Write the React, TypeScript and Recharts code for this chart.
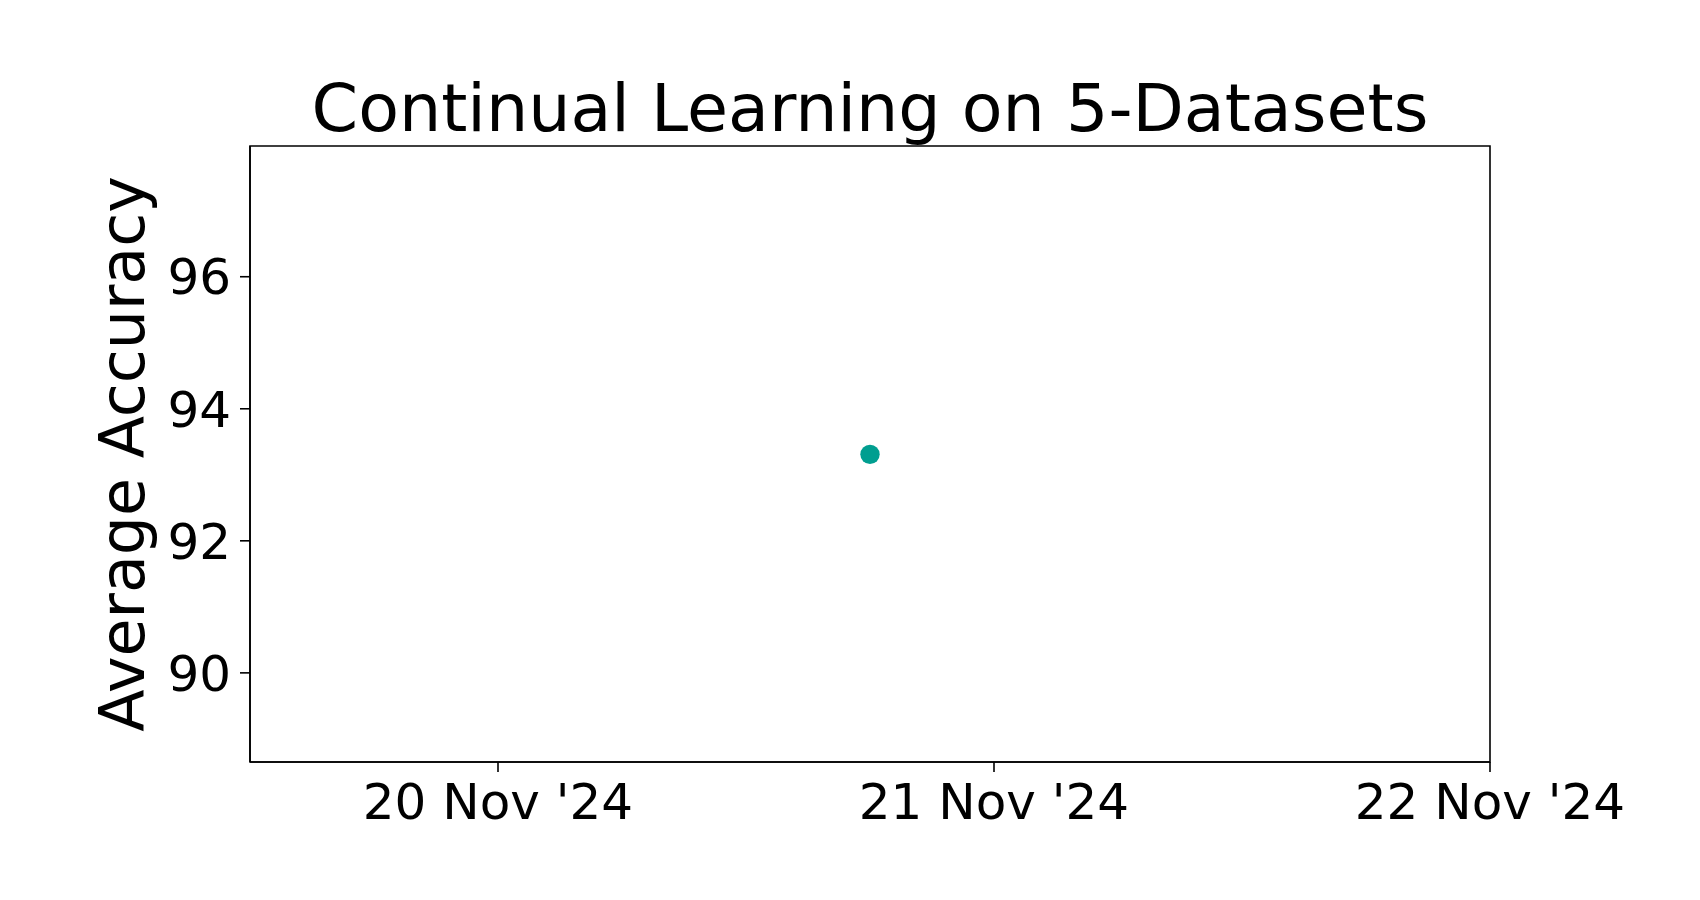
import React from "react";
import { ScatterChart, Scatter, XAxis, YAxis, ReferenceArea } from "recharts";

// values
const pointTimes = [Date.UTC(2024, 10, 20, 18)];
const pointAccuracy = [93.31];
const xTickTimes = [Date.UTC(2024, 10, 20), Date.UTC(2024, 10, 21), Date.UTC(2024, 10, 22)];
const xTickLabels = ["20 Nov '24", "21 Nov '24", "22 Nov '24"];
const yTicks = [90, 92, 94, 96];

const data = pointTimes.map((t, i) => ({ t, acc: pointAccuracy[i] }));

const X_DOMAIN = [Date.UTC(2024, 10, 19, 12), Date.UTC(2024, 10, 22)];
const Y_DOMAIN = [88.65, 97.98];

const FONT = "DejaVu Sans";
const AXIS = { stroke: "#000", strokeWidth: 1.6 };
const DOT = "#009e90";

const App: React.FC = () => {
  const fmtX = (v: number) => {
    const i = xTickTimes.indexOf(v);
    return i >= 0 ? xTickLabels[i] : "";
  };

  return (
    <div style={{ position: "absolute", left: 0, top: 0, width: 1700, height: 900, background: "#fff" }}>
      <ScatterChart
        width={1700}
        height={900}
        margin={{ top: 146, right: 210, bottom: 78, left: 0 }}
      >
        <XAxis
          type="number"
          dataKey="t"
          domain={X_DOMAIN}
          ticks={xTickTimes}
          tickFormatter={fmtX}
          interval={0}
          allowDataOverflow
          height={60}
          axisLine={AXIS}
          tickLine={AXIS}
          tickSize={10}
          tickMargin={11}
          tick={{ fill: "#000", fontSize: 50, fontFamily: FONT }}
        />
        <YAxis
          type="number"
          dataKey="acc"
          domain={Y_DOMAIN}
          ticks={yTicks}
          interval={0}
          allowDataOverflow
          width={250}
          axisLine={AXIS}
          tickLine={AXIS}
          tickSize={10}
          tickMargin={9}
          tick={{ fill: "#000", fontSize: 50, fontFamily: FONT }}
        />
        {/* frame around the plot area */}
        <ReferenceArea
          x1={X_DOMAIN[0]}
          x2={X_DOMAIN[1]}
          y1={Y_DOMAIN[0]}
          y2={Y_DOMAIN[1]}
          fill="none"
          fillOpacity={0}
          stroke="#000"
          strokeWidth={1.6}
          strokeOpacity={1}
        />
        <Scatter
          data={data}
          fill={DOT}
          isAnimationActive={false}
          shape={(p: any) => <circle cx={p.cx} cy={p.cy} r={9.7} fill={DOT} />}
        />
      </ScatterChart>
      <svg
        width={1700}
        height={900}
        style={{ position: "absolute", left: 0, top: 0, pointerEvents: "none" }}
      >
        <text x={870} y={131} textAnchor="middle" fontSize={66.7} fontFamily={FONT} fill="#000">
          Continual Learning on 5-Datasets
        </text>
        <text
          x={0}
          y={0}
          transform="translate(143.5,454) rotate(-90)"
          textAnchor="middle"
          fontSize={61.8}
          fontFamily={FONT}
          fill="#000"
        >
          Average Accuracy
        </text>
      </svg>
    </div>
  );
};

export default App;
